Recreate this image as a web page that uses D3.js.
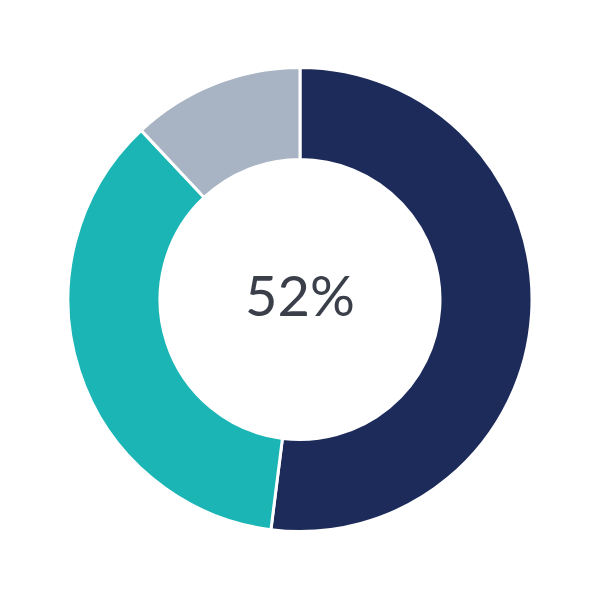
<!DOCTYPE html>
<html><head><meta charset="utf-8">
<script src="https://cdn.jsdelivr.net/npm/d3@7"></script>
<style>body{margin:0;background:#fff}svg{display:block}</style>
</head><body>
<svg id="c" width="600" height="600"></svg>
<script>
const categories = ["A", "B", "C"];
const values = [52, 36, 12];
const colors = ["#1c2b5a", "#1cb5b5", "#a8b4c4"];
const centerLabel = "52%";

const svg = d3.select("#c");
const g = svg.append("g").attr("transform", "translate(300,299.5)");
const pie = d3.pie().sort(null).value(d => d.v);
const arc = d3.arc().innerRadius(140).outerRadius(232);
const data = categories.map((c, i) => ({c, v: values[i], col: colors[i]}));
g.selectAll("path").data(pie(data)).join("path")
  .attr("d", arc)
  .attr("fill", d => d.data.col)
  .attr("stroke", "#fff")
  .attr("stroke-width", 3);
g.append("text").text(centerLabel)
  .attr("text-anchor", "middle")
  .attr("y", 16)
  .attr("font-family", "Lato, sans-serif")
  .attr("font-size", 56)
  .attr("fill", "#3a3f4a");
</script>
</body></html>
